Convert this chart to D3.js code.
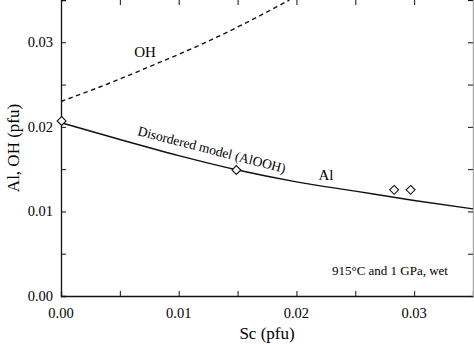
<!DOCTYPE html>
<html>
<head>
<meta charset="utf-8">
<script src="https://cdn.jsdelivr.net/npm/d3@7"></script>
<style>
  html, body { margin: 0; padding: 0; background: #fff; }
  svg { display: block; font-family: "Liberation Serif", "Times New Roman", serif; }
</style>
</head>
<body>
<svg id="chart" width="474" height="344"></svg>
<script>
// Sc content (pfu) along the model curves
const scGrid = [0, 0.005, 0.01, 0.015, 0.02, 0.025, 0.03, 0.035];
// Disordered model (AlOOH): Al (pfu)
const alModel = [0.0205, 0.0185, 0.0166, 0.0149, 0.0135, 0.0124, 0.0113, 0.0103];
// OH (pfu), dashed curve
const ohSc = [0, 0.004, 0.008, 0.012, 0.016, 0.0194];
const ohModel = [0.0230, 0.0251, 0.0274, 0.0298, 0.0325, 0.0350];
// Measured compositions
const obsSc = [0.00005, 0.0149, 0.0283, 0.0297];
const obsAl = [0.0207, 0.0149, 0.01255, 0.01255];
// Axis ticks
const xTicks = [0, 0.01, 0.02, 0.03];
const yTicks = [0, 0.01, 0.02, 0.03];
const minorTicks = [0, 0.005, 0.01, 0.015, 0.02, 0.025, 0.03, 0.035];

const svg = d3.select("#chart");
const m = { left: 61, right: 473, top: 0, bottom: 296 };

const x = d3.scaleLinear().domain([0, 0.035]).range([m.left, m.right]);
const y = d3.scaleLinear().domain([0, 0.035]).range([m.bottom, m.top]);

const fmt = d3.format(".2f");

// Bottom axis (ticks point inward)
svg.append("g")
  .attr("transform", `translate(0,${m.bottom})`)
  .call(d3.axisBottom(x).tickValues(minorTicks).tickSize(-5).tickFormat(""))
  .call(g => g.select(".domain").attr("stroke", "#111").attr("stroke-width", 1.3))
  .call(g => g.selectAll(".tick line").attr("stroke", "#111"));
svg.append("g")
  .selectAll("text").data(xTicks).join("text")
  .attr("x", d => x(d)).attr("y", 318)
  .attr("text-anchor", "middle")
  .attr("font-size", 14.5)
  .text(d => fmt(d));

// Left axis
svg.append("g")
  .attr("transform", `translate(${m.left},0)`)
  .call(d3.axisLeft(y).tickValues(minorTicks).tickSize(-5).tickFormat(""))
  .call(g => g.select(".domain").attr("stroke", "#111").attr("stroke-width", 1.3))
  .call(g => g.selectAll(".tick line").attr("stroke", "#111"));
svg.append("g")
  .selectAll("text").data(yTicks).join("text")
  .attr("x", 53).attr("y", d => y(d) + 5)
  .attr("text-anchor", "end")
  .attr("font-size", 14.5)
  .text(d => fmt(d));

// Top ticks (no visible frame line)
svg.append("g")
  .attr("transform", `translate(0,${m.top})`)
  .call(d3.axisTop(x).tickValues(minorTicks).tickSize(-5).tickFormat(""))
  .call(g => g.select(".domain").remove())
  .call(g => g.selectAll(".tick line").attr("stroke", "#111"));

// Right frame with inward ticks
svg.append("g")
  .attr("transform", `translate(${m.right},0)`)
  .call(d3.axisRight(y).tickValues(minorTicks).tickSize(-5).tickFormat(""))
  .call(g => g.select(".domain").attr("stroke", "#aaa").attr("stroke-width", 1.5))
  .call(g => g.selectAll(".tick line").attr("stroke", "#111"));

// Curves
const line = d3.line().curve(d3.curveMonotoneX);

svg.append("path")
  .datum(scGrid.map((s, i) => [x(s), y(alModel[i])]))
  .attr("d", line)
  .attr("fill", "none").attr("stroke", "#111").attr("stroke-width", 1.4);

svg.append("path")
  .datum(ohSc.map((s, i) => [x(s), y(ohModel[i])]))
  .attr("d", line)
  .attr("fill", "none").attr("stroke", "#111").attr("stroke-width", 1.4)
  .attr("stroke-dasharray", "4.5,3.5");

// Observed points (open diamonds)
const diamond = d3.symbol().type(d3.symbolDiamond2).size(50);
svg.append("g")
  .selectAll("path").data(obsSc.map((s, i) => [s, obsAl[i]])).join("path")
  .attr("transform", d => `translate(${x(d[0])},${y(d[1])})`)
  .attr("d", diamond)
  .attr("fill", "#fff").attr("stroke", "#111").attr("stroke-width", 1.1);

// Labels
svg.append("text").attr("x", 145).attr("y", 57)
  .attr("text-anchor", "middle").attr("font-size", 15).text("OH");
svg.append("text").attr("x", 326).attr("y", 180)
  .attr("text-anchor", "middle").attr("font-size", 15).text("Al");
svg.append("text")
  .attr("transform", "translate(137,135) rotate(14.5)")
  .attr("font-size", 13.5).text("Disordered model (AlOOH)");
svg.append("text").attr("x", 448).attr("y", 275)
  .attr("text-anchor", "end").attr("font-size", 13).text("915°C and 1 GPa, wet");

// Axis titles
svg.append("text").attr("x", (m.left + m.right) / 2).attr("y", 339)
  .attr("text-anchor", "middle").attr("font-size", 17).text("Sc (pfu)");
svg.append("text")
  .attr("transform", `translate(19,${(m.top + m.bottom) / 2}) rotate(-90)`)
  .attr("text-anchor", "middle").attr("font-size", 17).text("Al, OH (pfu)");
</script>
</body>
</html>
